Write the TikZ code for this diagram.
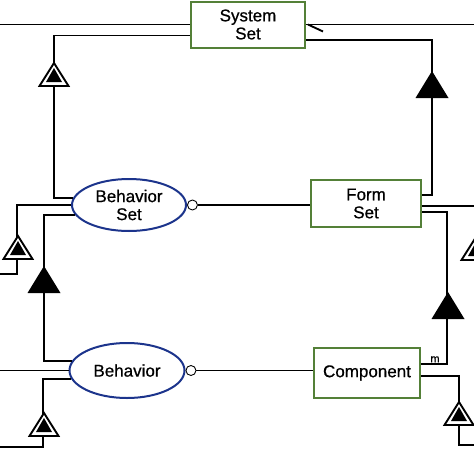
\documentclass[tikz,border=0pt]{standalone}
\usepackage{fontspec}
\setmainfont{Liberation Sans}
\newfontfamily\labelfont{Liberation Sans}[FakeBold=0.7]
\usetikzlibrary{positioning,shapes.geometric}

\definecolor{thinggreen}{RGB}{84,128,56}
\definecolor{procblue}{RGB}{28,52,140}

\tikzset{
  thing/.style={draw=thinggreen, line width=2pt, fill=white, inner sep=0pt,
    align=center, font=\labelfont\fontsize{17}{18}\selectfont},
  proc/.style={ellipse, draw=procblue, line width=2pt, fill=white, inner sep=0pt,
    align=center, font=\labelfont\fontsize{17}{18}\selectfont},
  agent/.style={circle, draw, line width=0.9pt, fill=white, inner sep=0pt, minimum size=10pt},
  link/.style={line width=1.9pt},
  aggr/.pic={\fill (0,0) -- (-16.5,27) -- (16.5,27) -- cycle;},
  exhib/.pic={\draw[line width=1.9pt, fill=white] (0,2) -- (-14.5,25) -- (14.5,25) -- cycle;
    \fill (0,7) -- (-8,21) -- (8,21) -- cycle;}
}

\begin{document}
\begin{tikzpicture}[x=1pt, y=-1pt]
    \useasboundingbox (0,0) rectangle (474,474);
    \fill[white] (0,0) rectangle (474,474);
    \coordinate (L) at (0,0);
    \coordinate (R) at (474,0);
    \coordinate (R2) at (476,0);

    % things and processes
    \node[thing, minimum width=114pt, minimum height=46pt] (sys) at (248,24.5) {System\\Set};
    \node[proc, minimum width=114pt, minimum height=52pt] (bset) at (129,205) {Behavior\\Set};
    \node[thing, minimum width=110pt, minimum height=47pt] (fset) at (366,203.5) {Form\\Set};
    \node[proc, minimum width=115pt, minimum height=55pt] (beh) at (127,370.5) {Behavior};
    \node[thing, minimum width=106pt, minimum height=50pt] (comp) at (367,373) {Component};
    \node[agent, right=0pt of bset] (c1) {};
    \node[agent, right=0pt of beh] (c2) {};

    % System Set
    \draw[link] (sys.west) -- (sys.west -| L);
    \draw[link] (sys.east) -- (sys.east -| R);
    \draw[link] ([xshift=2pt]sys.east) -- ++(15,7);
    \draw[link] ([yshift=-11pt]sys.west) -| ([xshift=-19pt]bset.173) -- (bset.173);
    \draw[link] ([yshift=-15.5pt]sys.east) -| ([xshift=10pt,yshift=8.5pt]fset.east) -- ([yshift=8.5pt]fset.east);

    % Behavior Set
    \draw[link] (bset.west) -| ([xshift=-54pt,yshift=-69pt]bset.west) -- ([yshift=-69pt]bset.west -| L);
    \draw[link] (bset.190) -| ([xshift=-28pt]beh.170) -- (beh.170);
    \draw[link] (c1.east) -- (c1.east -| fset.west);

    % Form Set
    \draw[link] ([yshift=-2.5pt]fset.east) -| ([yshift=-90pt]fset.east -| R2);
    \draw[link] ([yshift=-8.5pt]fset.east) -| ([xshift=26pt,yshift=9pt]comp.east) -- ([yshift=9pt]comp.east);
    \node[above, inner sep=1.5pt, font=\labelfont\fontsize{11}{11}\selectfont] (mult) at ([xshift=14pt,yshift=9pt]comp.east) {m};

    % Behavior
    \draw[link] (beh.west) -- (beh.west -| L);
    \draw[link] (beh.189) -| ([xshift=-28pt,yshift=-68pt]beh.189) -- ([yshift=-68pt]beh.189 -| L);
    \draw[link] (c2.east) -- (c2.east -| comp.west);

    % Component
    \draw[link] ([yshift=-3pt]comp.east) -| ([xshift=38pt,yshift=-72pt]comp.east) -- ([yshift=-72pt]comp.east -| R);

    % link symbols
    \pic at (54,61) {exhib};
    \pic at (432,71) {aggr};
    \pic at (18,234) {exhib};
    \pic at (44,266) {aggr};
    \pic at (448,292) {aggr};
    \pic at (476,235) {exhib};
    \pic at (459,400) {exhib};
    \pic at (44,411) {exhib};
\end{tikzpicture}
\end{document}
